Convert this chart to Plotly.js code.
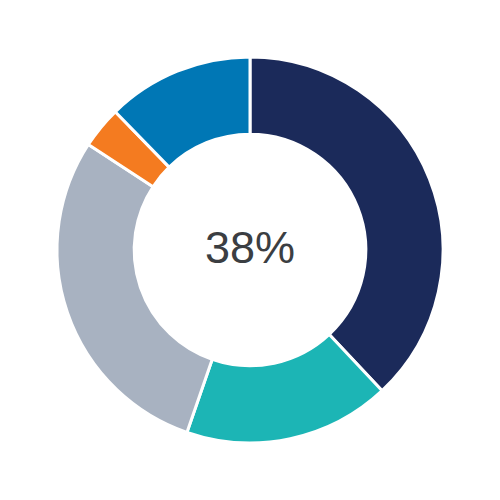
<!DOCTYPE html>
<html>
<head>
<meta charset="utf-8">
<script src="https://cdn.plot.ly/plotly-3.0.1.min.js"></script>
<style>
  html, body { margin: 0; padding: 0; background: #ffffff; }
  #chart { width: 500px; height: 500px; }
</style>
</head>
<body>
<div id="chart"></div>
<script>
// slice data, clockwise from 12 o'clock
var labels = ['Segment A', 'Segment B', 'Segment C', 'Segment D', 'Segment E'];
var shares = [38, 17.3, 28.9, 3.5, 12.3];
var colors = ['#1b2a5a', '#1cb5b5', '#a8b2c1', '#f47b20', '#0077b5'];
var centerText = '38%';

var trace = {
	type: 'pie',
	labels: labels,
	values: shares,
	hole: 0.6,
	sort: false,
	direction: 'clockwise',
	rotation: 0,
	textinfo: 'none',
	hoverinfo: 'none',
	marker: {
		colors: colors,
		line: { color: '#ffffff', width: 3 }
	}
};

var layout = {
	width: 500,
	height: 500,
	margin: { l: 57, r: 57, t: 57, b: 57 },
	showlegend: false,
	paper_bgcolor: '#ffffff',
	annotations: [{
		text: centerText,
		x: 0.5, y: 0.5,
		xref: 'paper', yref: 'paper',
		yshift: 3,
		showarrow: false,
		font: { family: 'Liberation Sans, Arial, sans-serif', size: 45, color: '#3b3e42' }
	}]
};

Plotly.newPlot('chart', [trace], layout, { staticPlot: true });
</script>
</body>
</html>
